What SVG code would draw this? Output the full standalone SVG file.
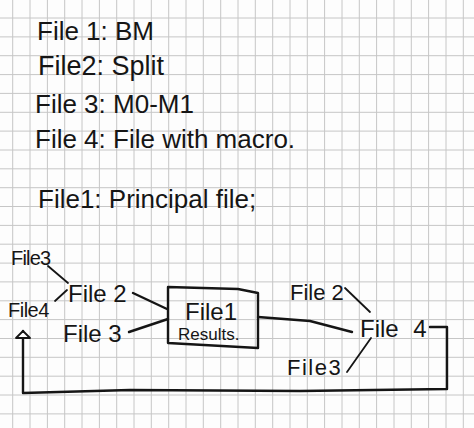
<svg xmlns="http://www.w3.org/2000/svg" width="474" height="428" viewBox="0 0 474 428">
<style>
.grid{stroke:#c6c6c6;stroke-width:1;fill:none}
text{font-family:"Liberation Sans","DejaVu Sans",sans-serif;fill:#151515}
.ln{stroke:#151515;stroke-width:2.4;fill:none;stroke-linecap:round;stroke-linejoin:round}
.thin{stroke:#151515;stroke-width:1.8;fill:none;stroke-linecap:round}
</style>
<defs>
<marker id="openArrow" viewBox="0 0 16 10" refX="8" refY="1" markerWidth="16" markerHeight="10" markerUnits="userSpaceOnUse" orient="0">
<path d="M1,8 L8,1 L15,8 Z" fill="#fff" stroke="#151515" stroke-width="1.8" stroke-linejoin="round"/>
</marker>
</defs>
<rect width="474" height="428" fill="#fdfdfd"/>
<path class="grid" d="M12.7,0V428M30,0V428M47.4,0V428M64.7,0V428M82,0V428M99.4,0V428M116.7,0V428M134,0V428M151.3,0V428M168.7,0V428M186,0V428M203.3,0V428M220.7,0V428M238,0V428M255.3,0V428M272.7,0V428M290,0V428M307.3,0V428M324.6,0V428M342,0V428M359.3,0V428M376.6,0V428M394,0V428M411.3,0V428M428.6,0V428M446,0V428M463.3,0V428M0,18H474M0,36.9H474M0,55.7H474M0,74.6H474M0,93.4H474M0,112.3H474M0,131.1H474M0,150H474M0,168.8H474M0,187.7H474M0,206.5H474M0,225.4H474M0,244.2H474M0,263.1H474M0,281.9H474M0,300.8H474M0,319.6H474M0,338.5H474M0,357.3H474M0,376.2H474M0,395H474M0,413.9H474"/>

<g id="legend">
<text x="37" y="40" font-size="26">File 1: BM</text>
<text x="38" y="75" font-size="27">File2: Split</text>
<text x="35" y="113" font-size="26">File 3: M0-M1</text>
<text x="35" y="148" font-size="26">File 4: File with macro.</text>
<text x="38" y="208" font-size="26">File1: Principal file;</text>
</g>

<g id="connectors">
<path class="thin" d="M48,266 L68,283"/>
<path class="thin" d="M55,301 L67,290"/>
<path class="ln" d="M133,293 L167,309"/>
<path class="ln" d="M129,332 L168,319"/>
<path class="ln" d="M258,317 L310,321 L352,332"/>
<path class="thin" d="M345,288 L370,312"/>
<path class="thin" d="M347,372 L371,338"/>
<path class="ln" d="M430,327 L447,327 L447,389 L300,391 L130,390 L23,393 L23,331" marker-end="url(#openArrow)"/>
</g>

<g id="node-file3-top"><text x="11" y="265" font-size="20" letter-spacing="-0.8">File3</text></g>
<g id="node-file4-left"><text x="8" y="317" font-size="20" letter-spacing="-0.5">File4</text></g>
<g id="node-file2-left"><text x="68" y="302" font-size="24">File 2</text></g>
<g id="node-file3-left"><text x="63" y="342" font-size="24">File 3</text></g>
<g id="node-file1">
<path class="ln" d="M168,287 L238,289 L258,293 L258,348 L168,343 Z" fill="none"/>
<text x="185" y="320" font-size="24">File1</text>
<text x="178" y="340" font-size="17">Results.</text>
</g>
<g id="node-file2-right"><text x="290" y="300" font-size="22">File 2</text></g>
<g id="node-file4-right"><text x="360" y="337" font-size="24" word-spacing="8">File 4</text></g>
<g id="node-file3-right"><text x="287" y="375" font-size="22" letter-spacing="1.5">File3</text></g>
</svg>
